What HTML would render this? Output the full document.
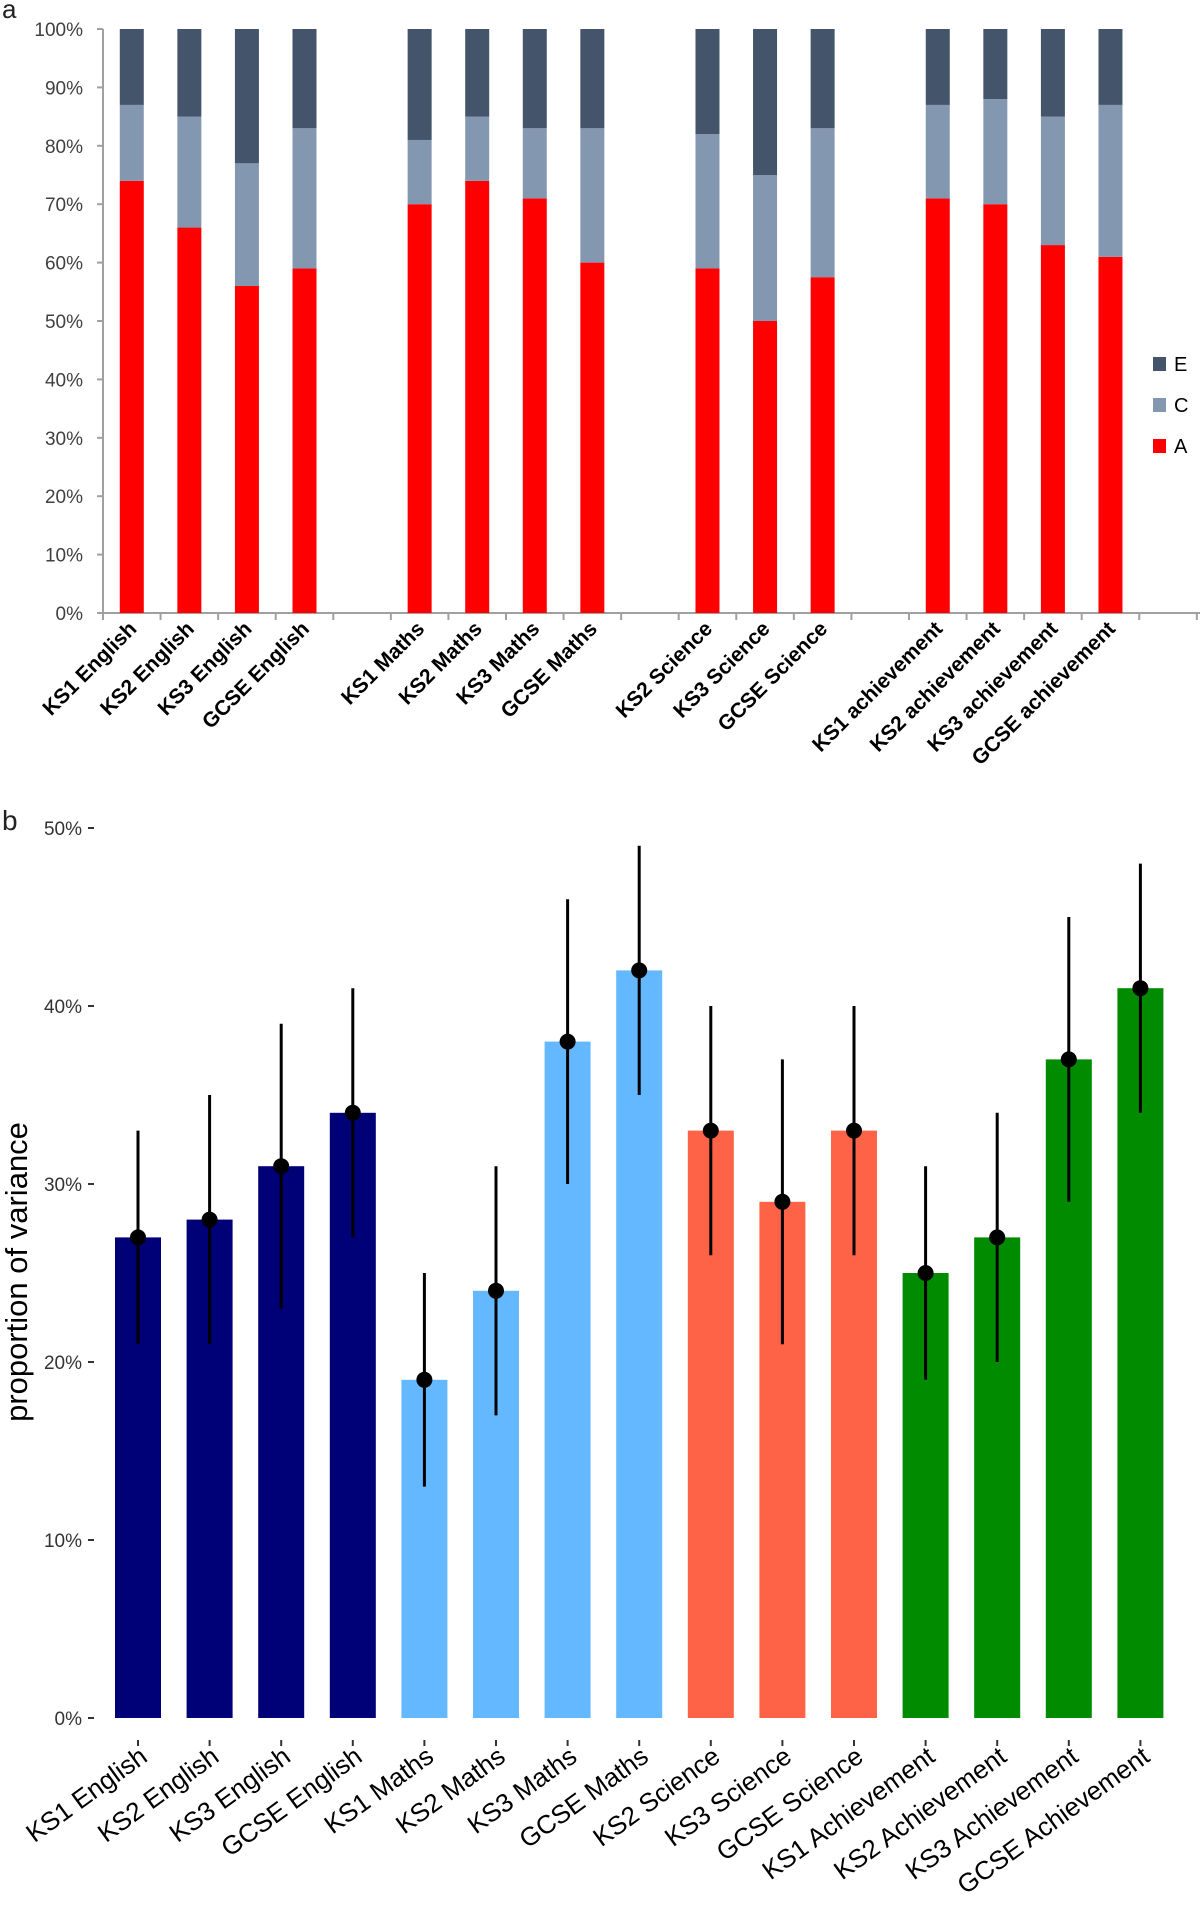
<!DOCTYPE html>
<html><head><meta charset="utf-8"><style>
html,body{margin:0;padding:0;background:#fff;}
svg{display:block;font-family:"Liberation Sans",Arial,sans-serif;}
</style></head><body>
<svg id="chart" width="1200" height="1908" viewBox="0 0 1200 1908" xmlns="http://www.w3.org/2000/svg">
<text x="2" y="18" font-size="26" fill="#222">a</text>
<text x="2" y="830" font-size="28" fill="#222">b</text>
<g id="top"></g>
<g id="bottom"></g>
</svg>
<script>
// ---- Panel a data ----
const topCats = ["KS1 English","KS2 English","KS3 English","GCSE English","","KS1 Maths","KS2 Maths","KS3 Maths","GCSE Maths","","KS2 Science","KS3 Science","GCSE Science","","KS1 achievement","KS2 achievement","KS3 achievement","GCSE achievement",""];
const topA = [74,66,56,59,null,70,74,71,60,null,59,50,57.5,null,71,70,63,61,null];
const topC = [13,19,21,24,null,11,11,12,23,null,23,25,25.5,null,16,18,22,26,null];
const topE = [13,15,23,17,null,19,15,17,17,null,18,25,17,null,13,12,15,13,null];
const topTicks = [0,10,20,30,40,50,60,70,80,90,100];
const legendLabels = ["E","C","A"];

// ---- Panel b data ----
const botCats = ["KS1 English","KS2 English","KS3 English","GCSE English","KS1 Maths","KS2 Maths","KS3 Maths","GCSE Maths","KS2 Science","KS3 Science","GCSE Science","KS1 Achievement","KS2 Achievement","KS3 Achievement","GCSE Achievement"];
const botVals = [27,28,31,34,19,24,38,42,33,29,33,25,27,37,41];
const botLo = [21,21,23,27,13,17,30,35,26,21,26,19,20,29,34];
const botHi = [33,35,39,41,25,31,46,49,40,37,40,31,34,45,48];
const botGroup = [0,0,0,0,1,1,1,1,2,2,2,3,3,3,3];
const botTicks = [0,10,20,30,40,50];

const NS="http://www.w3.org/2000/svg";
function mk(tag, attrs, parent){const e=document.createElementNS(NS,tag);for(const k in attrs)e.setAttribute(k,attrs[k]);parent.appendChild(e);return e;}

// ---- Panel a ----
const gt=document.getElementById('top');
const tx0=103, slotW=57.57, ty0=613, ty100=29;
const tY=v=>ty0+(ty100-ty0)*v/100;
const tX=i=>tx0+slotW*(i+0.5);
let e;
e=mk('line',{x1:tx0,y1:ty100,x2:tx0,y2:ty0,stroke:'#a0a0a0','stroke-width':2},gt);


e=mk('line',{x1:tx0,y1:ty0,x2:1200,y2:ty0,stroke:'#a0a0a0','stroke-width':2},gt);


topTicks.forEach(t=>{
  const y=tY(t);
  const l=mk('line',{x1:tx0-6,y1:y,x2:tx0,y2:y,stroke:'#a0a0a0','stroke-width':2},gt);
  
  
  const tt=mk('text',{x:83,y:y+7,'text-anchor':'end','font-size':19,fill:'#404040'},gt);
  tt.textContent=t+'%';
  
  
});
for(let i=0;i<=topCats.length;i++){
  const x=tx0+slotW*i;
  const l=mk('line',{x1:x,y1:ty0,x2:x,y2:ty0+7,stroke:'#a0a0a0','stroke-width':2},gt);
  
  
}
const bw=24;
topCats.forEach((c,i)=>{
  if(topA[i]===null) return;
  const cx=tX(i);
  const a=topA[i], cc=topC[i], ee=topE[i];
  let r=mk('rect',{x:cx-bw/2,y:tY(a),width:bw,height:ty0-tY(a),fill:'#ff0000'},gt);
  
  
  r=mk('rect',{x:cx-bw/2,y:tY(a+cc),width:bw,height:tY(a)-tY(a+cc),fill:'#8497b0'},gt);
  
  
  r=mk('rect',{x:cx-bw/2,y:tY(a+cc+ee),width:bw,height:tY(a+cc)-tY(a+cc+ee),fill:'#44546a'},gt);
  
  
  const t=mk('text',{x:cx+6,y:630,'text-anchor':'end','font-size':21,'font-weight':'bold',fill:'#000',transform:`rotate(-45 ${cx+6} 630)`},gt);
  t.textContent=c;
  
  
});
const legCols=['#44546a','#8497b0','#ff0000'];
legendLabels.forEach((lab,i)=>{
  const y=357+i*41;
  const r=mk('rect',{x:1153,y:y,width:13,height:14,fill:legCols[i]},gt);
  
  
  const t=mk('text',{x:1174,y:y+14,'font-size':20,fill:'#000'},gt);
  t.textContent=lab;
  
  
});

// ---- Panel b ----
const gb=document.getElementById('bottom');
const by0=1718, by50=828, bx0=138, bStep=71.6, bW=46;
const bY=v=>by0+(by50-by0)*v/50;
const bX=i=>bx0+bStep*i;
const gCols=['#000077','#63b8ff','#ff6347','#008b00'];
botTicks.forEach(t=>{
  const y=bY(t);
  const l=mk('line',{x1:88,y1:y,x2:94,y2:y,stroke:'#333','stroke-width':2},gb);
  
  
  const tt=mk('text',{x:82,y:y+7,'text-anchor':'end','font-size':19,fill:'#333'},gb);
  tt.textContent=t+'%';
  
  
});
e=mk('text',{x:27,y:1272,'text-anchor':'middle','font-size':31,fill:'#000',transform:'rotate(-90 27 1272)'},gb);
e.textContent='proportion of variance';


botCats.forEach((c,i)=>{
  const cx=bX(i), v=botVals[i];
  const r=mk('rect',{x:cx-bW/2,y:bY(v),width:bW,height:by0-bY(v),fill:gCols[botGroup[i]]},gb);
  
  
  const l=mk('line',{x1:cx,y1:bY(botLo[i]),x2:cx,y2:bY(botHi[i]),stroke:'#000','stroke-width':3},gb);
  
  
  const d=mk('circle',{cx:cx,cy:bY(v),r:8,fill:'#000'},gb);
  
  
  const tk=mk('line',{x1:cx,y1:1740,x2:cx,y2:1746,stroke:'#333','stroke-width':2},gb);
  
  
  const t=mk('text',{x:cx+11,y:1760,'text-anchor':'end','font-size':26,fill:'#000',transform:`rotate(-36 ${cx+11} 1760)`},gb);
  t.textContent=c;
  
  
});
</script>
</body></html>
